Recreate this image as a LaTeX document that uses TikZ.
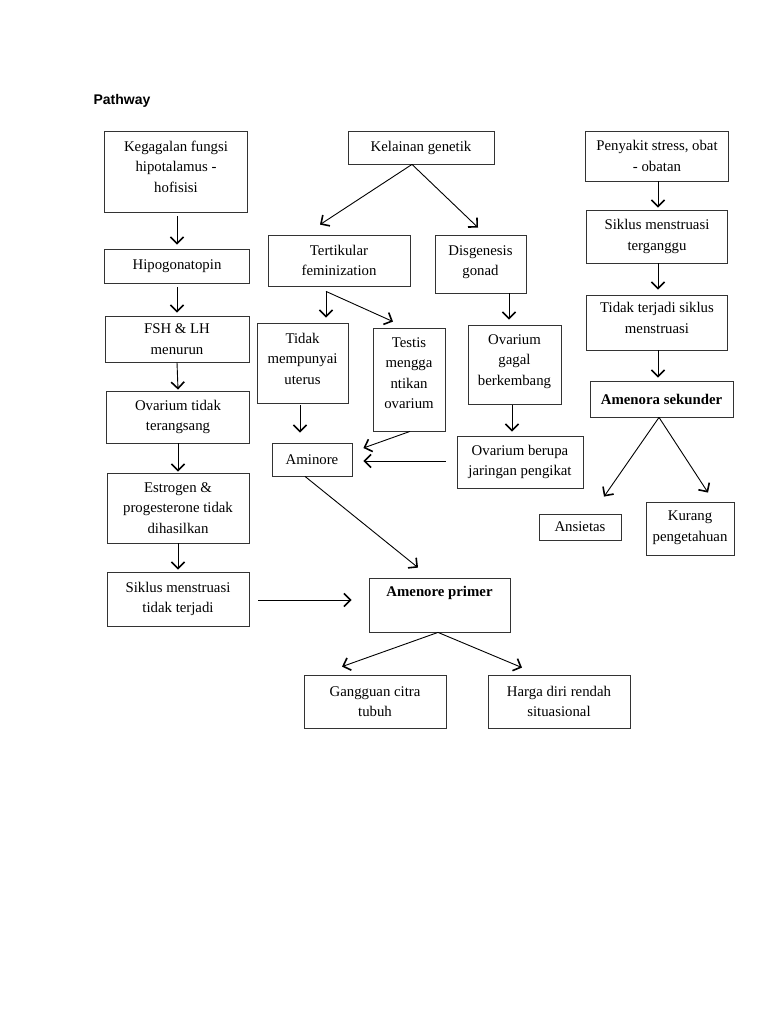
\documentclass[tikz,border=0pt]{standalone}
\usepackage{fontspec}
\setmainfont{Liberation Serif}
\newfontfamily\titlefont{Liberation Sans}
\usetikzlibrary{arrows.meta,calc}
\begin{document}
\begin{tikzpicture}[x=1pt,y=-1pt,
  box/.style={draw=black!80, line width=0.8pt, align=center, inner sep=0pt,
    font=\fontsize{14.8}{20.5}\selectfont},
  arr/.style={line width=0.9pt, -{Straight Barb[length=6.5pt,width=13pt,line width=1.6pt]}},
  ln/.style={line width=0.9pt}]
\useasboundingbox[fill=white] (0,0) rectangle (768,1024);

\node[font=\titlefont\bfseries\fontsize{14}{16}\selectfont, anchor=west] (title) at (90,101) {Pathway};

% left column
\node[box, minimum width=143pt, minimum height=81pt, text depth=10pt] (A) at (176,171.5) {Kegagalan fungsi\\hipotalamus -\\hofisisi};
\node[box, minimum width=145pt, minimum height=34pt] (hipo) at (177,266) {Hipogonatopin};
\node[box, minimum width=144pt, minimum height=46pt] (fsh) at (177,339) {FSH \& LH\\menurun};
\node[box, minimum width=143pt, minimum height=52pt] (ovt) at (178,417) {Ovarium tidak\\terangsang};
\node[box, minimum width=142pt, minimum height=70pt] (est) at (178,508) {Estrogen \&\\progesterone tidak\\dihasilkan};
\node[box, minimum width=142pt, minimum height=54pt] (skt) at (178,599) {Siklus menstruasi\\tidak terjadi};

% middle
\node[box, minimum width=146pt, minimum height=33pt] (kel) at (421,147.5) {Kelainan genetik};
\node[box, minimum width=142pt, minimum height=51pt] (tert) at (339,260.5) {Tertikular\\feminization};
\node[box, minimum width=91pt, minimum height=58pt, text depth=7pt] (dis) at (480.5,264) {Disgenesis\\gonad};
\node[box, minimum width=91pt, minimum height=80pt, text depth=9pt] (tdk) at (302.5,363) {Tidak\\mempunyai\\uterus};
\node[box, minimum width=72pt, minimum height=103pt, text depth=13pt] (tes) at (409,379.5) {Testis\\mengga\\ntikan\\ovarium};
\node[box, minimum width=93pt, minimum height=79pt, text depth=9pt] (ovg) at (514.5,364.5) {Ovarium\\gagal\\berkembang};
\node[box, minimum width=126pt, minimum height=52pt] (ovb) at (520,462) {Ovarium berupa\\jaringan pengikat};
\node[box, minimum width=80pt, minimum height=33pt] (amin) at (312,459.5) {Aminore};
\node[box, minimum width=141pt, minimum height=54pt] (amp) at (439.5,605) {\textbf{Amenore primer}\\\strut};
\node[box, minimum width=142pt, minimum height=53pt] (gang) at (375,701.5) {Gangguan citra\\tubuh};
\node[box, minimum width=142pt, minimum height=53pt] (harga) at (559,701.5) {Harga diri rendah\\situasional};

% right
\node[box, minimum width=143pt, minimum height=50pt] (pen) at (657,156) {Penyakit stress, obat\\- obatan};
\node[box, minimum width=141pt, minimum height=53pt] (sikg) at (657,236.5) {Siklus menstruasi\\terganggu};
\node[box, minimum width=141pt, minimum height=55pt, text depth=9pt] (tts) at (657,322.5) {Tidak terjadi siklus\\menstruasi};
\node[box, minimum width=143pt, minimum height=36pt] (ams) at (661.5,399) {\textbf{Amenora sekunder}};
\node[box, minimum width=82pt, minimum height=26pt] (ans) at (580,527) {Ansietas};
\node[box, minimum width=88pt, minimum height=53pt, text depth=5pt] (kur) at (690,528.5) {Kurang\\pengetahuan};

% left column arrows
\draw[arr] ($(A.south)+(1,4)$) -- ($(hipo.north)+(0,-4)$);
\draw[arr] ($(hipo.south)+(0,4)$) -- ($(fsh.north)+(0,-3)$);
\draw[arr] (fsh.south) -- ($(ovt.north)+(0,-1)$);
\draw[arr] (ovt.south) -- ($(est.north)+(0,-1)$);
\draw[arr] (est.south) -- ($(skt.north)+(0,-2)$);
\draw[arr] ($(skt.east)+(9,1)$) -- ($(amp.west)+(-17,-5)$);

% middle arrows
\draw[arr] ($(kel.south)+(-9,0)$) -- ($(tert.north)+(-19,-10)$);
\draw[arr] ($(kel.south)+(-9,0)$) -- ($(dis.north)+(-2.5,-7)$);
\coordinate (tsplit) at ($(tert.south)+(-13,5)$);
\draw[arr] (tsplit) -- ($(tdk.north)+(23.5,-5)$);
\draw[arr] (tsplit) -- ($(tes.north)+(-16,-6)$);
\draw[arr] ($(dis.south)+(28.5,0)$) -- ($(ovg.north)+(-5.5,-5)$);
\draw[arr] ($(ovg.south)+(-2.5,1)$) -- ($(ovb.north)+(-8,-4)$);
\draw[arr] ($(tdk.south)+(-2.5,2)$) -- ($(amin.north)+(-12,-10)$);
\draw[arr] ($(tes.south)+(1,0)$) -- ($(amin.east)+(11,-11.5)$);
\draw[arr] ($(ovb.west)+(-11,-1)$) -- ($(amin.east)+(11,1.5)$);
\draw[arr] ($(amin.south)+(-7,0)$) -- ($(amp.north)+(-21.5,-10)$);
\draw[arr] ($(amp.south)+(-1.5,0)$) -- ($(gang.north)+(-33,-8)$);
\draw[arr] ($(amp.south)+(-1.5,0)$) -- ($(harga.north)+(-37,-7)$);

% right arrows
\draw[arr] ($(pen.south)+(1,0)$) -- ($(sikg.north)+(1,-2)$);
\draw[arr] ($(sikg.south)+(1,0)$) -- ($(tts.north)+(1,-5)$);
\draw[arr] ($(tts.south)+(1,0)$) -- ($(ams.north)+(-3.5,-3)$);
\draw[arr] ($(ams.south)+(-2.5,0)$) -- ($(ans.north)+(24,-17)$);
\draw[arr] ($(ams.south)+(-2.5,0)$) -- ($(kur.north)+(18,-9)$);
\end{tikzpicture}
\end{document}
